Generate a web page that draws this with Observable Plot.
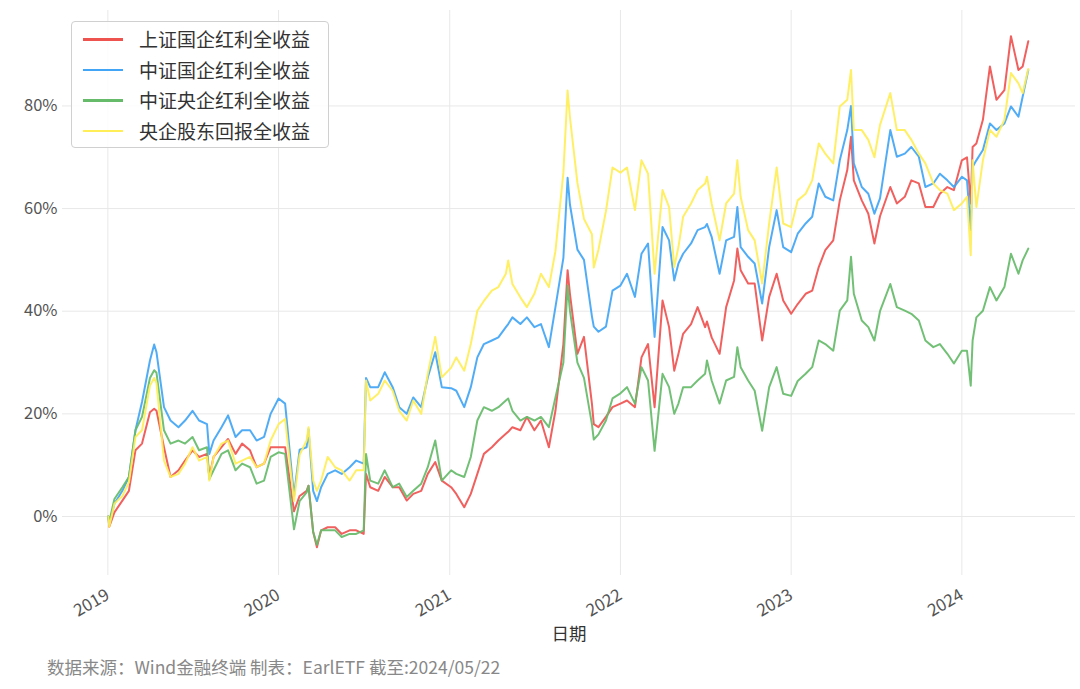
<!DOCTYPE html>
<html>
<head>
<meta charset="utf-8">
<script src="https://cdn.jsdelivr.net/npm/d3@7"></script>
<script src="https://cdn.jsdelivr.net/npm/@observablehq/plot@0.6"></script>
<style>
  html, body { margin: 0; padding: 0; background: #fff; }
  body { width: 1080px; height: 689px; overflow: hidden; font-family: "Noto Sans CJK SC", "Noto Sans", sans-serif; }
  #wrap { position: relative; width: 1080px; height: 689px; }
  #legend { position: absolute; left: 71px; top: 21px; width: 256px; height: 125px; border: 1px solid #d0d0d0; border-radius: 4px; background: rgba(255,255,255,0.85); box-sizing: content-box; }
  .row { position: absolute; left: 0; height: 30px; }
  .sw { position: absolute; left: 11px; width: 40px; height: 2.5px; }
  .lt { position: absolute; left: 67px; font-size: 19px; color: #333; white-space: nowrap; line-height: 30px; }
  #caption { position: absolute; left: 47px; top: 654px; font-size: 17.5px; color: #888; white-space: nowrap; }
</style>
</head>
<body>
<div id="wrap">
  <div id="chart"></div>
  <div id="legend"></div>
  <div id="caption"></div>
</div>
<script>
// ---- data (percent cumulative total return) ----
const dates = [
"2019-01-02","2019-01-04","2019-01-15","2019-02-01","2019-02-15","2019-03-01","2019-03-15","2019-04-01","2019-04-10","2019-04-15",
"2019-05-01","2019-05-15","2019-06-01","2019-06-15","2019-07-01","2019-07-15","2019-08-01","2019-08-06","2019-08-15","2019-09-01",
"2019-09-15","2019-10-01","2019-10-15","2019-11-01","2019-11-15","2019-12-01","2019-12-15","2020-01-01","2020-01-15","2020-02-03",
"2020-02-15","2020-03-01","2020-03-05","2020-03-15","2020-03-23","2020-04-01","2020-04-15","2020-05-01","2020-05-15","2020-06-01",
"2020-06-15","2020-07-01","2020-07-06","2020-07-15","2020-08-01","2020-08-15","2020-09-01","2020-09-15","2020-10-01","2020-10-15",
"2020-11-01","2020-11-15","2020-12-01","2020-12-15","2021-01-04","2021-01-15","2021-02-01","2021-02-15","2021-03-01","2021-03-15",
"2021-04-01","2021-04-15","2021-05-01","2021-05-06","2021-05-15","2021-06-01","2021-06-15","2021-07-01","2021-07-15","2021-08-01",
"2021-08-15","2021-09-01","2021-09-10","2021-09-15","2021-10-01","2021-10-15","2021-11-01","2021-11-05","2021-11-15","2021-12-01",
"2021-12-15","2022-01-01","2022-01-15","2022-02-01","2022-02-15","2022-03-01","2022-03-15","2022-04-01","2022-04-15","2022-04-26",
"2022-05-05","2022-05-15","2022-06-01","2022-06-15","2022-07-01","2022-07-05","2022-07-15","2022-08-01","2022-08-15","2022-09-01",
"2022-09-08","2022-09-15","2022-10-01","2022-10-15","2022-10-31","2022-11-15","2022-12-01","2022-12-15","2023-01-01","2023-01-15",
"2023-02-01","2023-02-15","2023-03-01","2023-03-15","2023-04-01","2023-04-15","2023-05-01","2023-05-09","2023-05-15","2023-06-01",
"2023-06-15","2023-06-28","2023-07-10","2023-08-01","2023-08-15","2023-09-01","2023-09-15","2023-10-01","2023-10-15","2023-11-01",
"2023-11-15","2023-12-01","2023-12-15","2024-01-01","2024-01-12","2024-01-20","2024-01-24","2024-02-01","2024-02-15","2024-03-01",
"2024-03-15","2024-04-01","2024-04-15","2024-05-01","2024-05-10","2024-05-22"
];

// 上证国企红利全收益 (red)
const szGuoqi = [
0,-2,0.8,3.1,5,12.9,14.2,20.3,21,20.6,
13.5,7.7,9,10.9,12.9,11.6,12.2,7.7,11.6,13.5,
15.1,12.2,14.2,12.9,9.6,10.3,13.5,13.5,13.5,1,
4,5,6,-3,-6,-2.7,-2.1,-2.1,-3.4,-2.7,
-2.7,-3.4,8.3,5.7,5,7.7,5.7,5.7,3.1,4.4,
5,8.3,10.6,7,5.7,4.4,1.8,4.4,8.3,12.2,
13.5,14.8,16.1,16.5,17.4,16.8,19.4,16.8,18.7,13.5,
20.6,33.6,48,43.4,31.7,35,22,18,17.4,19.4,
21.3,22,22.6,21.3,31,33.6,21.3,42.1,36.9,28.4,
31.7,35.6,37.5,40.8,36.9,38,34.9,31.7,40.8,46,
52.2,48,45.4,45.4,34.3,42.8,47.3,42.1,39.5,41.4,
43.4,44,48.6,51.9,53.8,61.6,67.5,74,65.5,61.6,
59,53.2,58.5,64.2,61,62.3,65.5,64.9,60.3,60.3,
62.9,64.2,63.6,69.4,70,61,72,72.7,77.3,87.7,
81.2,83.1,93.6,87,87.7,92.6
];

// 中证国企红利全收益 (blue)
const zzGuoqi = [
0,-1.5,2.5,5,7.7,16.8,22.3,30.4,33.5,32,
21.3,18.7,17.4,18.7,20.6,18.7,18,12.2,14.8,17.4,
19.7,15.5,16.8,16.8,14.8,15.5,20,23,22,4,
13,13.5,17,5,3,5.7,8.3,9,8.3,9.6,
10.9,10.3,27,25.2,25.2,28.1,25.2,21.3,20,23.2,
21.3,27.1,32,25.2,25,24.5,21.3,25.2,31,33.6,
34.3,34.9,36.9,37.5,38.8,37.5,38.8,36.9,37.5,33,
40.8,50.4,66,60.8,52,50,39,37,36,37,
44,45,47.3,42.8,51.2,53.2,35,56.4,53.8,46,
49.3,51.2,53.2,55.8,56.4,57,54.5,47.3,53.8,54.5,
60.3,52.5,50.6,49.3,41.5,52.5,59.7,52.5,51.5,55.1,
57.1,58.4,64.9,62.3,61.6,69.4,75.3,80,68.8,64.2,
62.9,59,62,75.3,70.1,70.7,72,70.1,64.2,64.9,
66.8,65.5,64.2,66.2,65.5,55.8,68.1,69.4,71.4,76.6,
75.3,76.6,79.9,77.9,81.8,87
];

// 中证央企红利全收益 (green)
const zzYangqi = [
0,-1,3.4,5.7,7.7,16.8,19.4,27,28.5,28,
16.8,14.2,14.8,14.2,15.5,12.9,13.5,7.3,9,12.2,
12.9,9,10.3,9.6,6.4,7,11.6,12.5,12.2,-2.5,
3,4.7,6,-3,-5.5,-2.7,-2.7,-2.7,-4,-3.4,
-3.4,-2.7,12.2,7,6.4,9,5.7,6.4,3.8,5,
6.4,9.6,14.8,7,9,8.3,7.7,11.6,18.7,21.3,
20.6,21.3,22.6,23,20.6,18.7,19.4,18.7,19.4,17.4,
23.2,30,45,40.1,30,27,18,15,16,18.7,
23,24,25.2,22,29.1,26.5,12.8,27.8,25.2,20,
22,25.2,25.2,26.5,27.8,30.4,26.5,22,26.5,27.2,
33,29.1,26.5,24.5,16.7,25.2,29.1,23.9,23.5,26.4,
27.8,29.1,34.3,33.6,32.3,40.1,42.1,50.6,43.4,38.2,
36.9,34.3,40,45.3,40.8,40.1,39.5,38.2,34.3,33,
33.6,31.7,29.8,32.3,32.3,25.5,34.3,38.8,40.1,44.7,
42.1,44.7,51.2,47.3,49.9,52.2
];

// 央企股东回报全收益 (yellow)
const yqGudong = [
0,-2,2.5,4,6.7,15.5,16.8,25.5,27,26,
10.9,7.7,8.3,10.3,13.5,10.9,11.6,7,11.6,14.2,
14.8,10.3,10.9,11.6,9.6,10.3,14.8,18,19,3,
12,14.8,17.4,7,5,7,11.6,9.6,9,7,
9,9,26.5,22.6,23.9,26.5,24.5,20.6,18.7,22.6,
20,27.8,35,27.1,29,31,28.4,33.6,40.1,42,
44,44.7,47.3,49.9,45.3,42.7,40.8,43.4,47.3,44.7,
51.7,67,83,77.8,65,58,55,48.5,52,59.5,
68,67,68,59.7,69.4,66.8,47.3,63.6,60.3,48.6,
52.5,58.4,61,63.6,64.9,66.2,61,53.8,61,62.9,
69.4,62.3,55.8,53.8,45.4,57.1,68,57.1,56.4,61.6,
62.9,65.5,72.7,70.7,68.8,79.9,81.2,87,75.3,75.3,
73.4,70,76.3,82.5,75.3,75.3,73.4,70.7,68.8,64.9,
63.6,62.9,59.7,61,62.3,50.9,69.4,60.3,69.4,75.3,
74,77.3,86.4,84.4,82.5,87.2
];

const seriesNames = ["上证国企红利全收益","中证国企红利全收益","中证央企红利全收益","央企股东回报全收益"];
const seriesColors = ["#EF5350","#42A5F5","#66BB6A","#FFEE58"];
const yTicks = [0, 20, 40, 60, 80];
const xTickYears = [2019, 2020, 2021, 2022, 2023, 2024];
const xLabel = "日期";
const captionText = "数据来源：Wind金融终端 制表：EarlETF 截至:2024/05/22";

// ---- build table ----
const seriesValues = [szGuoqi, zzGuoqi, zzYangqi, yqGudong];
const rows = [];
seriesValues.forEach((vals, si) => {
  vals.forEach((v, i) => rows.push({date: new Date(dates[i] + "T00:00:00Z"), value: v, series: seriesNames[si]}));
});
const xTicks = xTickYears.map(y => new Date(Date.UTC(y, 0, 1)));

const font = '"Noto Sans CJK SC", "Noto Sans", sans-serif';
const chart = Plot.plot({
  width: 1080,
  height: 650,
  marginTop: 10,
  marginBottom: 75,
  marginLeft: 62,
  marginRight: 5,
  style: {fontFamily: font, fontSize: "16px", color: "#555", background: "#fff"},
  x: {type: "utc", domain: [new Date("2018-09-26T00:00:00Z"), new Date("2024-08-31T00:00:00Z")]},
  y: {domain: [-11.5, 98.6]},
  color: {domain: seriesNames, range: seriesColors},
  marks: [
    Plot.gridY(yTicks, {stroke: "#e8e8e8", strokeOpacity: 1, strokeWidth: 1}),
    Plot.gridX(xTicks, {stroke: "#e8e8e8", strokeOpacity: 1, strokeWidth: 1}),
    Plot.axisY(yTicks, {tickSize: 0, tickPadding: 5, tickFormat: d => d + "%", label: null, fontSize: 16.5, fill: "#555"}),
    Plot.axisX(xTicks, {tickSize: 0, tickPadding: 18, tickRotate: -30, tickFormat: d => String(d.getUTCFullYear()), label: null, fontSize: 17, fill: "#555"}),
    Plot.text([xLabel], {frameAnchor: "bottom", dy: 64, fontSize: 17.5, fill: "#333"}),
    Plot.lineY(rows, {x: "date", y: "value", z: "series", stroke: "series", strokeWidth: 2, strokeOpacity: 0.92, curve: "linear"})
  ]
});
document.getElementById("chart").appendChild(chart);

// legend
const lg = document.getElementById("legend");
seriesNames.forEach((n, i) => {
  const row = document.createElement("div");
  row.className = "row";
  row.style.top = (2 + i * 30.5) + "px";
  row.style.width = "256px";
  const sw = document.createElement("div");
  sw.className = "sw";
  sw.style.background = seriesColors[i];
  sw.style.top = "14px";
  const t = document.createElement("div");
  t.className = "lt";
  t.textContent = n;
  t.style.top = "0px";
  row.appendChild(sw);
  row.appendChild(t);
  lg.appendChild(row);
});
document.getElementById("caption").textContent = captionText;
</script>
</body>
</html>
